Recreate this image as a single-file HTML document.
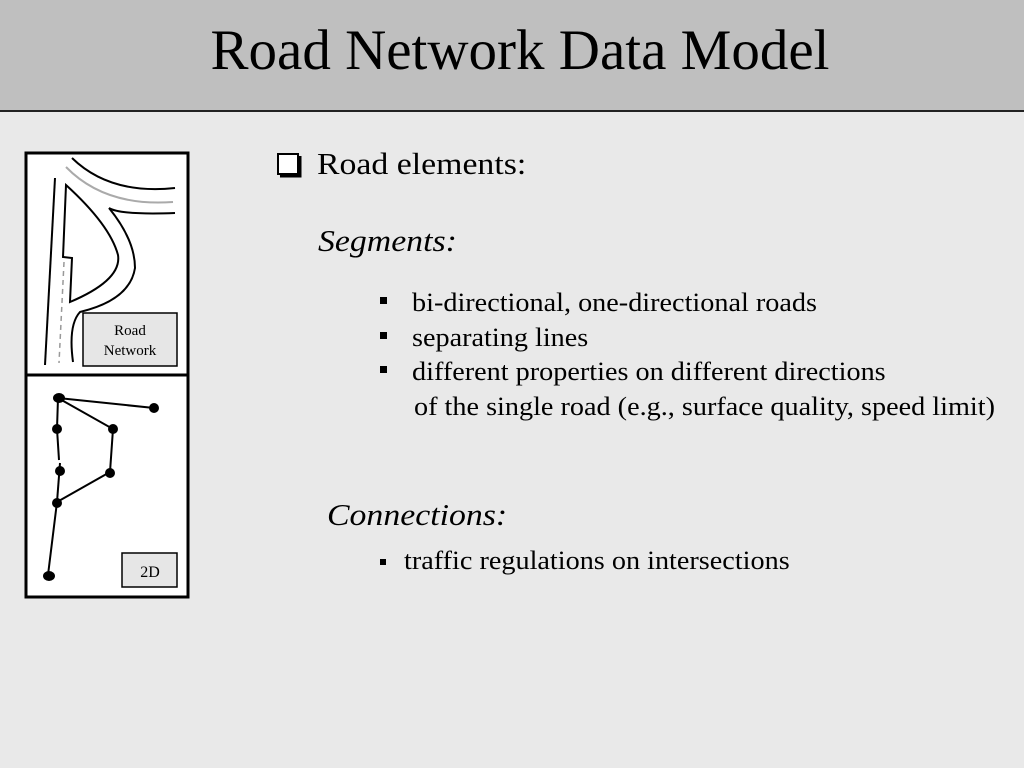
<!DOCTYPE html>
<html><head><meta charset="utf-8"><style>
body{margin:0;width:1024px;height:768px;background:#e9e9e9;position:relative;overflow:hidden;font-family:"Liberation Serif",serif;color:#000}
#hd{position:absolute;left:0;top:0;width:1024px;height:110px;background:#bfbfbf;border-bottom:2px solid #222}
#hd div{position:absolute;top:22px;left:8px;width:1024px;text-align:center;font-size:57px;line-height:1}
.t{position:absolute;white-space:nowrap;line-height:1;transform-origin:0 0}
.b{font-size:26px;transform:scaleX(1.085)}
.h{font-size:31px;transform:scaleX(1.09)}
</style></head><body>
<div id="hd"><div>Road Network Data Model</div></div>
<svg style="position:absolute;left:0;top:0" width="1024" height="768">
<rect x="26" y="153" width="162" height="444" fill="#fff" stroke="#000" stroke-width="3"/>
<line x1="26" y1="375" x2="188" y2="375" stroke="#000" stroke-width="3"/>
<g fill="none" stroke="#000" stroke-width="2">
<path d="M55 178 L45 365"/>
<path d="M72 158 Q110 195 175 188"/>
<path d="M109 208 Q120 215 175 213" />
<path d="M66 185 Q110 225 118 255 Q122 280 70 302 L72 258 L63 257 Z"/>
<path d="M109 208 Q135 240 135 268 Q130 300 80 312 Q68 325 73 362"/>
</g>
<path d="M66 167 Q105 207 173 202" fill="none" stroke="#aaa" stroke-width="2"/>
<path d="M64 262 L59 363" fill="none" stroke="#999" stroke-width="1.5" stroke-dasharray="5,4"/>
<rect x="83" y="313" width="94" height="53" fill="#e6e6e6" stroke="#000" stroke-width="1.5"/>
<text x="130" y="335" font-size="15" text-anchor="middle" font-family="Liberation Serif">Road</text>
<text x="130" y="355" font-size="15" text-anchor="middle" font-family="Liberation Serif">Network</text>
<g stroke="#000" stroke-width="2" fill="none">
<path d="M154 408 L58 398 L113 429 L110 472 L57 502 L48 575"/>
<path d="M58 398 L57 429 L59 460"/><path d="M60 463 L57 502"/>
</g>
<g fill="#000">
<ellipse cx="59" cy="398" rx="6" ry="5"/><ellipse cx="154" cy="408" rx="5" ry="5"/>
<ellipse cx="57" cy="429" rx="5" ry="5"/><ellipse cx="113" cy="429" rx="5" ry="5"/>
<ellipse cx="60" cy="471" rx="5" ry="5"/><ellipse cx="110" cy="473" rx="5" ry="5"/>
<ellipse cx="57" cy="503" rx="5" ry="5"/><ellipse cx="49" cy="576" rx="6" ry="5"/>
</g>
<rect x="122" y="553" width="55" height="34" fill="#e6e6e6" stroke="#000" stroke-width="1.5"/>
<text x="150" y="577" font-size="16" text-anchor="middle" font-family="Liberation Serif">2D</text>
<rect x="278" y="154" width="20" height="20" fill="#fff" stroke="#000" stroke-width="2"/>
<path d="M280 176 L300 176 L300 156" stroke="#000" stroke-width="3" fill="none"/>
<rect x="380" y="297" width="7" height="7" fill="#000"/>
<rect x="380" y="332" width="7" height="7" fill="#000"/>
<rect x="380" y="366" width="7" height="7" fill="#000"/>
<rect x="380" y="559" width="6" height="6" fill="#000"/>
</svg>
<div class="t h" style="left:317px;top:148px">Road elements:</div>
<div class="t h" style="left:318px;top:225px;font-style:italic">Segments:</div>
<div class="t b" style="left:412px;top:290px">bi-directional, one-directional roads</div>
<div class="t b" style="left:412px;top:325px">separating lines</div>
<div class="t b" style="left:412px;top:359px">different properties on different directions</div>
<div class="t b" style="left:414px;top:394px">of the single road (e.g., surface quality, speed limit)</div>
<div class="t h" style="left:327px;top:499px;font-style:italic">Connections:</div>
<div class="t b" style="left:404px;top:548px">traffic regulations on intersections</div>
</body></html>
